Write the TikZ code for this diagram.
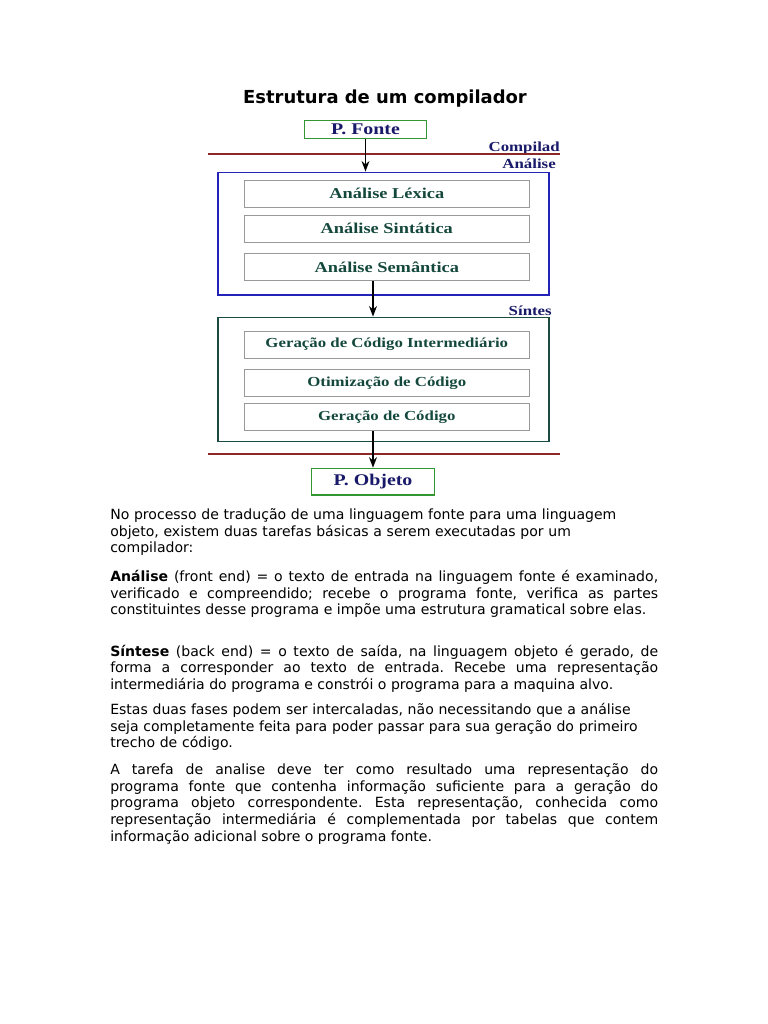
\documentclass[tikz,border=0pt]{standalone}
\usepackage{fontspec}
\setmainfont{DejaVu Sans}
\newfontfamily\boxfont[FakeStretch=1.22]{Liberation Serif}
\usetikzlibrary{arrows.meta,positioning}
\frenchspacing

\definecolor{navytxt}{RGB}{25,25,105}
\definecolor{tealtxt}{RGB}{20,72,60}
\definecolor{analiseblue}{RGB}{35,35,185}
\definecolor{sintesegreen}{RGB}{28,75,65}
\definecolor{progreen}{RGB}{50,150,50}
\definecolor{darkred}{RGB}{140,40,40}

\begin{document}
\begin{tikzpicture}[
    x=0.797pt, y=-0.797pt,
    >=Stealth,
    fasebox/.style={draw=black!40, line width=0.8pt, minimum width=227pt, minimum height=21.5pt, inner sep=0pt, text=tealtxt},
    bigfont/.style={font=\boxfont\bfseries\fontsize{12}{14}\selectfont},
    smallfont/.style={font=\boxfont\bfseries\fontsize{11}{13}\selectfont},
    progbox/.style={draw=progreen, line width=1pt, minimum width=97.5pt, inner sep=0pt, text=navytxt, font=\boxfont\bfseries\fontsize{13}{15}\selectfont},
    groupbox/.style={draw, line width=1.5pt, minimum width=264.3pt, inner sep=0pt},
    tag/.style={anchor=base east, inner sep=0pt, text=navytxt, font=\boxfont\bfseries\fontsize{11}{13}\selectfont},
    redline/.style={draw=darkred, line width=1.5pt},
    para/.style={anchor=base west, inner sep=0pt, text width=436.7pt, font=\fontsize{11.2}{13.25}\selectfont}
]
    \useasboundingbox (0,0) rectangle (768,1024);

    \node[anchor=base, inner sep=0pt, font=\bfseries\fontsize{14.3}{17}\selectfont] (titulo) at (385,103) {Estrutura de um compilador};

    % programas
    \node[progbox, minimum height=14pt] (fonte) at (365.5,129.5) {P. Fonte};
    \node[progbox, minimum height=21.3pt] (objeto) at (373,481.7) {P. Objeto};

    % grupos
    \node[groupbox, draw=analiseblue, minimum height=97.6pt] (analise) at (383.5,233.7) {};
    \node[groupbox, draw=sintesegreen, minimum height=98.8pt] (sintese) at (383.4,379.5) {};

    \node[fasebox, bigfont] (lexica) at (386.8,193.6) {Análise Léxica};
    \node[fasebox, bigfont] (sintatica) at (386.8,228.6) {Análise Sintática};
    \node[fasebox, bigfont] (semantica) at (386.8,267) {Análise Semântica};

    \node[fasebox, smallfont] (intermed) at (386.8,344.7) {Geração de Código Intermediário};
    \node[fasebox, smallfont] (otimiza) at (386.8,383) {Otimização de Código};
    \node[fasebox, smallfont] (geracao) at (386.8,417.3) {Geração de Código};

    \node[tag] (compilad) at (560,151) {Compilad};
    \node[tag] (tagan) at (556,168) {Análise};
    \node[tag] (tagsin) at (552,315) {Síntes};

    \coordinate (linhaAw) at (208,154);
    \coordinate (linhaAe) at (560,154);
    \coordinate (linhaBw) at (208,454);
    \coordinate (linhaBe) at (560,454);
    \draw[redline] (linhaAw) -- (linhaAe);
    \draw[redline] (linhaBw) -- (linhaBe);

    \draw[->, line width=1.2pt] (fonte.south) -- (fonte.south |- analise.north);
    \draw[->, line width=1.2pt] (objeto |- semantica.south) -- (objeto |- sintese.north);
    \draw[->, line width=1.2pt] (objeto |- geracao.south) -- (objeto.north);

    % texto
    \node[para, align=left] (p1) at (110,519.5) {No processo de tradução de uma linguagem fonte para uma linguagem\\ objeto, existem duas tarefas básicas a serem executadas por um\\ compilador:};
    \node[para, align=justify] (p2) at (110,581.5) {\textbf{Análise} (front end) = o texto de entrada na linguagem fonte é examinado,\linebreak verificado e compreendido; recebe o programa fonte, verifica as partes\linebreak constituintes desse programa e impõe uma estrutura gramatical sobre elas.};
    \node[para, align=justify] (p3) at (110,656) {\textbf{Síntese} (back end) = o texto de saída, na linguagem objeto é gerado, de\linebreak forma a corresponder ao texto de entrada. Recebe uma representação\linebreak intermediária do programa e constrói o programa para a maquina alvo.};
    \node[para, align=left] (p4) at (110,714.5) {Estas duas fases podem ser intercaladas, não necessitando que a análise\\ seja completamente feita para poder passar para sua geração do primeiro\\ trecho de código.};
    \node[para, align=justify] (p5) at (110,774.5) {A tarefa de analise deve ter como resultado uma representação do\linebreak programa fonte que contenha informação suficiente para a geração do\linebreak programa objeto correspondente. Esta representação, conhecida como\linebreak representação intermediária é complementada por tabelas que contem\linebreak informação adicional sobre o programa fonte.};
\end{tikzpicture}
\end{document}
